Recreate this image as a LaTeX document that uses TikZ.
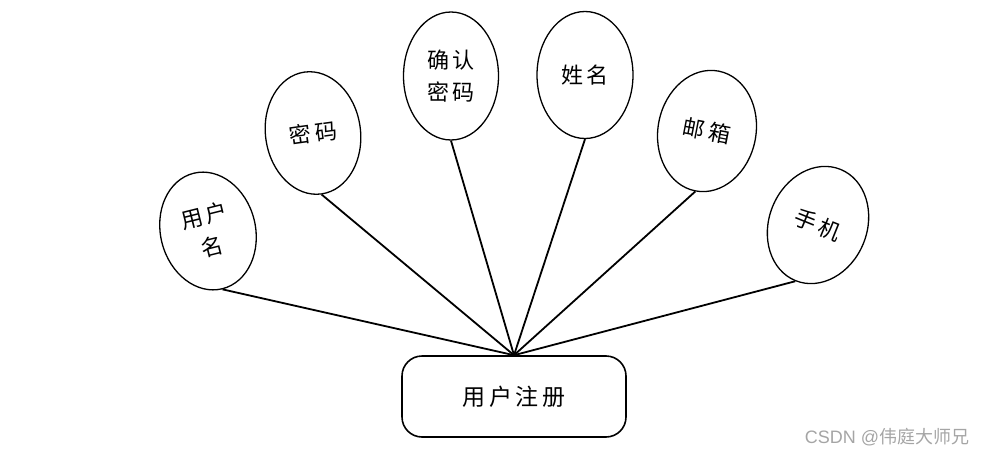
\documentclass[tikz,border=0pt]{standalone}
\usepackage{fontspec}
\setmainfont{Noto Sans CJK SC}[LetterSpace=17]
\newfontfamily\wmfont{Noto Sans CJK SC}
\newfontfamily\wmlatin{Liberation Sans}
\usetikzlibrary{shapes.geometric}
\definecolor{wmgray}{RGB}{165,165,165}
\begin{document}
\begin{tikzpicture}[x=1pt,y=-1pt,
 attr/.style={ellipse, draw, line width=1.3pt, inner sep=0pt, font=\fontsize{22}{32}\selectfont, align=center},
 link/.style={line width=1.8pt},
 ent/.style={rectangle, rounded corners=20pt, draw, line width=1.6pt, minimum width=224pt, minimum height=81pt, font=\fontsize{23}{28}\selectfont},
 wm/.style={font=\wmfont\fontsize{18}{20}\selectfont, text=wmgray, inner sep=0pt}]
\useasboundingbox (0,0) rectangle (988,455);
\node[ent] (reg) at (514,396.5) {用户注册};
\node[attr, minimum width=95pt, minimum height=119pt, rotate=14] (a1) at (208,231) {用户\\名};
\node[attr, minimum width=95pt, minimum height=123pt, rotate=8] (a2) at (313,133) {密码};
\node[attr, minimum width=95pt, minimum height=128pt] (a3) at (451,76) {确认\\密码};
\node[attr, minimum width=96pt, minimum height=127pt] (a4) at (585,75) {姓名};
\node[attr, minimum width=98pt, minimum height=122pt, rotate=-11] (a5) at (707,131) {邮箱};
\node[attr, minimum width=98pt, minimum height=120pt, rotate=-22] (a6) at (818,225) {手机};
\foreach \a in {a1,a2,a3,a4,a5,a6}{\draw[link] (reg.north) -- (\a.south);}
\node[wm] (wmk) at (887,437) {{\wmlatin CSDN @}伟庭大师兄};
\end{tikzpicture}
\end{document}
